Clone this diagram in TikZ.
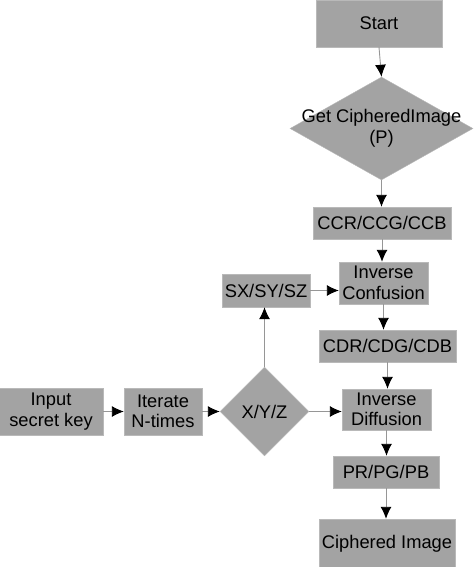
\documentclass[tikz,border=0pt]{standalone}
\usepackage{fontspec}
\setmainfont{Liberation Sans}
\usetikzlibrary{shapes.geometric, arrows.meta}
\definecolor{boxgray}{RGB}{163,163,163}
\definecolor{edgegray}{RGB}{185,185,185}
\definecolor{linegray}{RGB}{150,150,150}

\begin{document}
\begin{tikzpicture}[x=1pt, y=-1pt,
        stepbox/.style={rectangle, draw=edgegray, fill=boxgray, text=black, align=center, inner sep=0pt, font=\fontsize{18.3}{20.5}\selectfont},
        decisionnode/.style={diamond, draw=edgegray, fill=boxgray, text=black, inner sep=0pt, label={[font=\fontsize{18.3}{20.5}\selectfont, align=center]center:#1}},
        flow/.style={draw=linegray, line width=0.9pt, -{Latex[length=12pt, width=11pt, color=black]}},
]
        \useasboundingbox (0,0) rectangle (474,567);

        \node[stepbox, minimum width=126pt, minimum height=47pt] (start) at (379,23.5) {Start};
        \node[decisionnode={Get CipheredImage\\(P)}, minimum width=183pt, minimum height=103pt] (getimage) at (381.5,128.5) {};
        \node[stepbox, minimum width=138pt, minimum height=32pt] (ccr) at (382,223) {CCR/CCG/CCB};
        \node[stepbox, minimum width=89pt, minimum height=42pt] (invconf) at (383.5,283) {Inverse\\Confusion};
        \node[stepbox, minimum width=88pt, minimum height=33pt] (sxyz) at (266,290.5) {SX/SY/SZ};
        \node[stepbox, minimum width=137pt, minimum height=32pt] (cdr) at (387.5,346) {CDR/CDG/CDB};
        \node[stepbox, minimum width=89pt, minimum height=41pt] (invdiff) at (386.5,409.5) {Inverse\\Diffusion};
        \node[stepbox, minimum width=104pt, minimum height=47pt] (input) at (51,411.5) {Input\\secret key};
        \node[stepbox, minimum width=78pt, minimum height=47pt] (iterate) at (163,411.5) {Iterate\\N-times};
        \node[decisionnode={X/Y/Z}, minimum width=89pt, minimum height=89pt] (xyz) at (264.5,411.5) {};
        \node[stepbox, minimum width=106pt, minimum height=32pt] (prgb) at (386,472) {PR/PG/PB};
        \node[stepbox, minimum width=136pt, minimum height=50pt] (output) at (387,544) {Ciphered Image};

        \draw[flow] (start.south) -- (getimage.north);
        \draw[flow] (getimage.south) -- (getimage.south |- ccr.north);
        \draw[flow] (ccr.south) -- (ccr.south |- invconf.north);
        \draw[flow] (sxyz.east) -- (sxyz.east -| invconf.west);
        \draw[flow] (invconf.south) -- (invconf.south |- cdr.north);
        \draw[flow] (cdr.south) -- (cdr.south |- invdiff.north);
        \draw[flow] (input.east) -- (iterate.west);
        \draw[flow] (iterate.east) -- (xyz.west);
        \draw[flow] (xyz.north) -- (xyz.north |- sxyz.south);
        \draw[flow] (xyz.east) -- (xyz.east -| invdiff.west);
        \draw[flow] (invdiff.south) -- (invdiff.south |- prgb.north);
        \draw[flow] (prgb.south) -- (prgb.south |- output.north);
\end{tikzpicture}
\end{document}
